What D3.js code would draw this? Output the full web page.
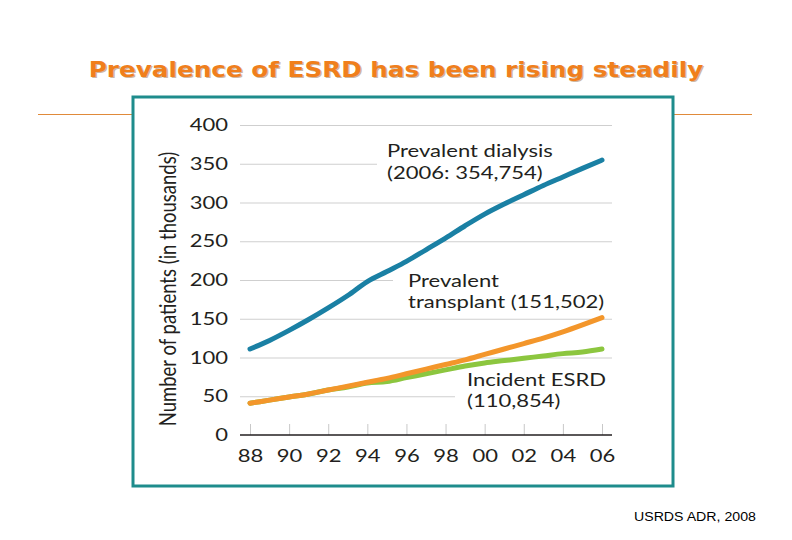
<!DOCTYPE html>
<html>
<head>
<meta charset="utf-8">
<script src="https://cdn.jsdelivr.net/npm/d3@7"></script>
<style>
  body { margin: 0; background: #fff; }
  svg { display: block; }
</style>
</head>
<body>
<svg id="slide" width="792" height="540"></svg>
<script>
const years = [1988, 1989, 1990, 1991, 1992, 1993, 1994, 1995, 1996, 1997, 1998, 1999, 2000, 2001, 2002, 2003, 2004, 2005, 2006];
const dialysis = [111, 122, 135, 149, 164, 180, 198, 211, 224, 239, 254, 270, 285, 298, 310, 322, 333, 344, 354.754];
const transplant = [41, 45, 49, 53, 58, 63, 68, 73, 79, 85, 91, 97, 104, 111, 118, 125, 133, 142, 151.502];
const incident = [41, 45, 49, 53, 58, 62, 67, 69, 74, 79, 84, 89, 93, 96, 99, 102, 105, 107, 110.854];
const yTicks = [0, 50, 100, 150, 200, 250, 300, 350, 400];
const xTicks = [1988, 1990, 1992, 1994, 1996, 1998, 2000, 2002, 2004, 2006];

const svg = d3.select("#slide");
const stretch = 1.26;   // the chart picture is wider than its font
const chartFont = "Lato, 'Open Sans', sans-serif";
const chartSize = 17.5;

// slide title, with a soft shadow copy underneath
const titleText = "Prevalence of ESRD has been rising steadily";
const title = svg.append("text")
  .attr("font-family", "'DejaVu Sans', Verdana, sans-serif")
  .attr("font-weight", "bold")
  .attr("font-size", 21)
  .attr("text-anchor", "middle")
  .text(titleText);
const titleScale = 615 / title.node().getComputedTextLength();
svg.insert("text", "text")
  .attr("font-family", "'DejaVu Sans', Verdana, sans-serif")
  .attr("font-weight", "bold")
  .attr("font-size", 21)
  .attr("text-anchor", "middle")
  .attr("fill", "#cdb8a4")
  .attr("transform", `translate(397.3,78.3) scale(${titleScale},1)`)
  .text(titleText);
title.attr("fill", "#f07f1c")
  .attr("transform", `translate(396,77) scale(${titleScale},1)`);

// orange rule behind the picture
svg.append("line")
  .attr("x1", 38).attr("x2", 752)
  .attr("y1", 114.5).attr("y2", 114.5)
  .attr("stroke", "#e08a3a")
  .attr("stroke-width", 1);

// picture frame
svg.append("rect")
  .attr("x", 133).attr("y", 97)
  .attr("width", 540).attr("height", 389)
  .attr("fill", "#fff")
  .attr("stroke", "#1e8c8c")
  .attr("stroke-width", 3);

const left = 240, right = 612;
const x = d3.scaleLinear().domain([1988, 2006]).range([250, 602]);
const y = d3.scaleLinear().domain([0, 400]).range([435, 125]);

// gridlines + y labels
const yAxis = svg.append("g")
  .attr("transform", `translate(${left},0)`)
  .call(d3.axisLeft(y).tickValues(yTicks).tickSize(-(right - left)).tickPadding(0));
yAxis.select(".domain").remove();
yAxis.selectAll(".tick line")
  .attr("stroke", "#cfcfcf")
  .attr("stroke-width", 1)
  .attr("opacity", d => d === 0 ? 0 : 1);
yAxis.selectAll(".tick text")
  .attr("font-family", chartFont)
  .attr("font-size", chartSize)
  .attr("fill", "#231f20")
  .attr("x", -12 / stretch)
  .attr("transform", `scale(${stretch},1)`);

// white boxes behind the line labels
const labelBoxes = [
  { x0: 377, x1: right, y0: 140, y1: 186 },
  { x0: 393, x1: right, y0: 268, y1: 313 },
  { x0: 455, x1: right, y0: 370, y1: 414 }
];
svg.append("g").selectAll("rect")
  .data(labelBoxes)
  .join("rect")
  .attr("x", d => d.x0)
  .attr("y", d => d.y0)
  .attr("width", d => d.x1 - d.x0)
  .attr("height", d => d.y1 - d.y0)
  .attr("fill", "#fff");

// x axis: light ticks upward, black base line, labels below
const xTickAxis = svg.append("g")
  .attr("transform", "translate(0,435)")
  .call(d3.axisTop(x).tickValues(xTicks).tickSize(11).tickFormat(""));
xTickAxis.select(".domain").remove();
xTickAxis.selectAll(".tick line").attr("stroke", "#c8c8c8");

svg.append("line")
  .attr("x1", left).attr("x2", right)
  .attr("y1", y(0)).attr("y2", y(0))
  .attr("stroke", "#231f20")
  .attr("stroke-width", 1.5);

const xAxis = svg.append("g")
  .attr("transform", "translate(0,435)")
  .call(d3.axisBottom(x).tickValues(xTicks).tickSize(0).tickPadding(15)
    .tickFormat(d => String(d % 100).padStart(2, "0")));
xAxis.select(".domain").remove();
xAxis.selectAll(".tick text")
  .attr("font-family", chartFont)
  .attr("font-size", chartSize)
  .attr("fill", "#231f20")
  .attr("transform", `scale(${stretch},1)`);

// y axis title
svg.append("text")
  .attr("font-family", chartFont)
  .attr("font-size", 18.5)
  .attr("fill", "#231f20")
  .attr("text-anchor", "middle")
  .attr("transform", `translate(176,289) scale(${stretch},1) rotate(-90)`)
  .text("Number of patients (in thousands)");

// series
const series = [
  { name: "incident", values: incident, color: "#8cc63f" },
  { name: "transplant", values: transplant, color: "#f3962b" },
  { name: "dialysis", values: dialysis, color: "#1a80a4" }
];
const line = d3.line()
  .x((d, i) => x(years[i]))
  .y(d => y(d))
  .curve(d3.curveMonotoneX);

svg.append("g").selectAll("path")
  .data(series)
  .join("path")
  .attr("d", d => line(d.values))
  .attr("fill", "none")
  .attr("stroke", d => d.color)
  .attr("stroke-width", 5)
  .attr("stroke-linecap", "round")
  .attr("stroke-linejoin", "round");

// line labels, two lines each
const labels = [
  { x: 387, y: 157, gap: 22, lines: ["Prevalent dialysis", "(2006: 354,754)"] },
  { x: 408, y: 287, gap: 21, lines: ["Prevalent", "transplant (151,502)"] },
  { x: 467, y: 386, gap: 21, lines: ["Incident ESRD", "(110,854)"] }
];
svg.append("g").selectAll("text")
  .data(labels)
  .join("text")
  .attr("font-family", chartFont)
  .attr("font-size", chartSize)
  .attr("fill", "#231f20")
  .attr("transform", d => `translate(${d.x},${d.y}) scale(${stretch},1)`)
  .selectAll("tspan")
  .data(d => d.lines.map((t, i) => ({ t, dy: i * d.gap })))
  .join("tspan")
  .attr("x", 0)
  .attr("y", d => d.dy)
  .text(d => d.t);

// source note
const note = svg.append("text")
  .attr("font-family", "'Liberation Sans', Arial, sans-serif")
  .attr("font-size", 12.5)
  .attr("fill", "#000")
  .text("USRDS ADR, 2008");
const noteW = note.node().getComputedTextLength();
note.attr("transform", `translate(634,521) scale(${122 / noteW},1)`);
</script>
</body>
</html>
